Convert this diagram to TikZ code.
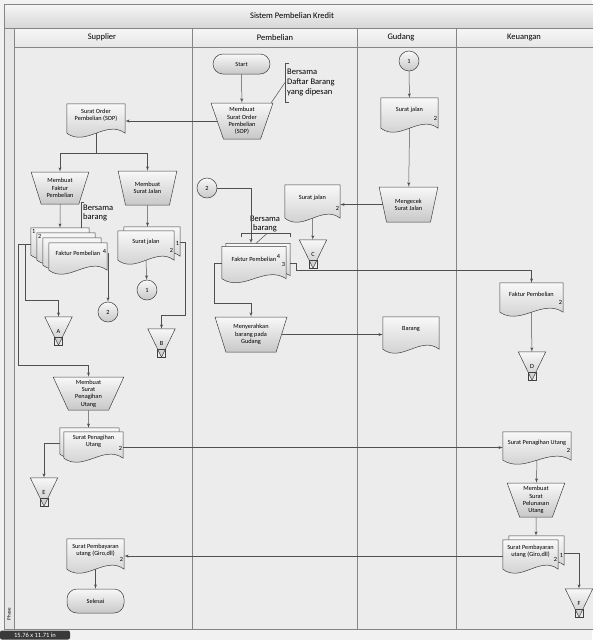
\documentclass[tikz,border=0pt]{standalone}
\usepackage{fontspec}
\setmainfont{Carlito}
\usetikzlibrary{arrows, backgrounds, calc, shapes.geometric}

\definecolor{pagebg}{HTML}{F1F1F1}
\definecolor{poolbg}{HTML}{ECECEC}
\definecolor{stripbg}{HTML}{E6E6E6}
\definecolor{laneline}{HTML}{858585}
\definecolor{headtop}{HTML}{F6F6F6}
\definecolor{headbot}{HTML}{D7D7D7}
\definecolor{shapeline}{HTML}{404040}
\definecolor{shadetop}{HTML}{F8F8F8}
\definecolor{shadebot}{HTML}{C8C8C8}
\definecolor{wire}{HTML}{505050}
\definecolor{tipbg}{HTML}{3A3A3A}

\newcommand\shapefont{\fontsize{6.3}{7.3}\selectfont}
\newcommand\notefont{\fontsize{8.5}{9.8}\selectfont}
\newcommand\headfont{\fontsize{8.5}{10}\selectfont}

% outline of a document: flat top, wavy bottom below the node
\newcommand\docoutline[1]{(#1.north west) -- (#1.north east) -- ([yshift=-7pt]#1.south east)
    .. controls ($(#1.south east)!0.33!(#1.south west)+(0,-7)$)
    and ($(#1.south east)!0.67!(#1.south west)+(0,21)$) .. ([yshift=-7pt]#1.south west) -- cycle}
% outline of an offline file: triangle pointing down
\newcommand\fileoutline[1]{(#1.north west) -- (#1.north east) -- (#1.south) -- cycle}

\tikzset{
    % node styles
    terminal/.style = {rectangle, rounded corners=10pt, minimum width=57pt, minimum height=22pt, inner sep=1pt,
        line width=0.5pt, draw=shapeline, top color=shadetop, bottom color=shadebot, font=\shapefont},
    manual/.style = {trapezium, trapezium angle=70, trapezium stretches=true, shape border rotate=180,
        inner sep=1pt, align=center, line width=0.5pt, draw=shapeline, top color=shadetop, bottom color=shadebot, font=\shapefont},
    connector/.style = {circle, minimum size=20pt, inner sep=0pt, line width=0.5pt, draw=shapeline,
        top color=shadetop, bottom color=shadebot, font=\shapefont},
    doc/.style = {rectangle, inner sep=1pt, align=center, font=\shapefont},
    file/.style = {rectangle, minimum width=27pt, minimum height=28pt, inner sep=0pt, font=\shapefont},
    note/.style = {inner sep=2pt, font=\notefont},
    num/.style = {inner sep=1pt, font=\shapefont},
    lane/.style = {font=\headfont},
    % outline style
    body/.style = {line width=0.5pt, draw=shapeline, top color=shadetop, bottom color=shadebot},
    % line styles
    line/.style = {line width=0.5pt, draw=wire},
    post/.style = {line, ->, >=latex'}
}

\begin{document}
\begin{tikzpicture}[x=1pt, y=-1pt]
    \useasboundingbox (0,0) rectangle (592,640);

    % pool, lanes and headers
    \begin{pgfonlayer}{background}
        \fill[pagebg] (0,0) rectangle (592,640);
        \fill[poolbg, draw=laneline] (4,4) rectangle (600,629);
        \shade[top color=headtop, bottom color=headbot, draw=laneline] (4,4) rectangle (600,28);
        \shade[top color=headtop, bottom color=headbot!50!headtop, draw=laneline] (14,28) rectangle (600,47);
        \fill[stripbg, draw=laneline] (4,28) rectangle (14,629);
        \foreach \x in {192,357,456}
            \draw[laneline] (\x,28) -- (\x,629);
    \end{pgfonlayer}

    \node[lane] (title) at (292,16) {Sistem Pembelian Kredit};
    \node[lane] (hSup) at (102,37.5) {Supplier};
    \node[lane] (hPem) at (275,37.5) {Pembelian};
    \node[lane] (hGud) at (401,37.5) {Gudang};
    \node[lane] (hKeu) at (524,37.5) {Keuangan};
    \node[rotate=90, font=\fontsize{5}{6}\selectfont] (phase) at (9,614) {Phase};

    % supplier
    \node[doc, minimum width=58pt, minimum height=22pt] (sop) at (96,115) {Surat Order\\Pembelian (SOP)};
    \node[manual, minimum width=58pt, minimum height=32pt] (fakM) at (60,188) {Membuat\\Faktur\\Pembelian};
    \node[manual, minimum width=59pt, minimum height=34pt] (sjM) at (147.5,188) {Membuat\\Surat Jalan};
    \node[note, anchor=west, align=left] (ann2) at (81,213) {Bersama\\barang};
    \node[doc, minimum width=58pt, minimum height=20pt,
        label={[num, anchor=north east, yshift=-5pt]north east:4}] (fakS) at (78,253) {Faktur Pembelian};
    \node[doc, minimum width=58pt, minimum height=20pt] (fakS3) at ([xshift=-6pt, yshift=5pt]fakS) {};
    \node[doc, minimum width=58pt, minimum height=20pt,
        label={[num, anchor=north west]north west:2}] (fakS2) at ([xshift=-12pt, yshift=10pt]fakS) {};
    \node[doc, minimum width=58pt, minimum height=20pt,
        label={[num, anchor=north west]north west:1}] (fakS1) at ([xshift=-18pt, yshift=15pt]fakS) {};
    \node[doc, minimum width=56pt, minimum height=22pt,
        label={[num, anchor=south east]south east:2}] (sjS) at (146,242) {Surat jalan};
    \node[doc, minimum width=56pt, minimum height=22pt,
        label={[num, anchor=east, yshift=-5pt]east:1}] (sjS1) at ([xshift=6pt, yshift=4pt]sjS) {};
    \node[connector] (c1S) at (147,290) {1};
    \node[connector] (c2S) at (108,312) {2};
    \node[file] (fileA) at (58.5,331) {A};
    \node[file] (fileB) at (161.5,343) {B};
    \node[manual, minimum width=71pt, minimum height=33pt] (spuM) at (88.5,393.5) {Membuat\\Surat\\Penagihan\\Utang};
    \node[doc, minimum width=59pt, minimum height=19pt,
        label={[num, anchor=south east]south east:2}] (spuS) at (93.5,441.5) {Surat Penagihan\\Utang};
    \node[doc, minimum width=59pt, minimum height=19pt] (spuS1) at ([xshift=-4pt, yshift=4pt]spuS) {};
    \node[file] (fileE) at (44,492) {E};
    \node[doc, minimum width=57pt, minimum height=23pt,
        label={[num, anchor=south east]south east:2}] (bayS) at (95.5,550.5) {Surat Pembayaran\\utang (Giro,dll)};
    \node[terminal, minimum height=24pt] (selesai) at (95.5,601) {Selesai};

    % pembelian
    \node[terminal, minimum height=20pt] (start) at (241.5,64) {Start};
    \node[manual, minimum width=62pt, minimum height=36pt] (sopM) at (242,121) {Membuat\\Surat Order\\Pembelian\\(SOP)};
    \node[note, anchor=west, align=left, minimum height=39pt] (ann1) at (285,82.5) {Bersama\\Daftar Barang\\yang dipesan};
    \node[connector] (c2P) at (207,188) {2};
    \node[note, align=center, inner sep=1pt] (ann3) at (265,224) {Bersama\\barang};
    \node[doc, minimum width=64pt, minimum height=25pt,
        label={[num, anchor=north east, xshift=-5pt, yshift=-7pt]north east:4},
        label={[num, anchor=east, yshift=-5pt]east:3}] (fakP) at (254,259) {Faktur Pembelian};
    \node[doc, minimum width=64pt, minimum height=25pt] (fakP1) at ([xshift=4pt, yshift=3pt]fakP) {};
    \node[doc, minimum width=55pt, minimum height=26pt,
        label={[num, anchor=south east]south east:2}] (sjP) at (312.5,198) {Surat jalan};
    \node[file] (fileC) at (313,254) {C};
    \node[manual, minimum width=72pt, minimum height=35pt] (kirim) at (251,334.5) {Menyerahkan\\barang pada\\Gudang};

    % gudang
    \node[connector] (c1G) at (409,61) {1};
    \node[doc, minimum width=57pt, minimum height=23pt,
        label={[num, anchor=south east]south east:2}] (sjG) at (409.5,109.5) {Surat jalan};
    \node[manual, minimum width=59pt, minimum height=35pt] (cek) at (408.5,204.5) {Mengecek\\Surat Jalan};
    \node[doc, minimum width=56pt, minimum height=25pt] (brg) at (411,329.5) {Barang};

    % keuangan
    \node[doc, minimum width=63pt, minimum height=22pt,
        label={[num, anchor=south east]south east:2}] (fakK) at (531.5,294) {Faktur Pembelian};
    \node[file] (fileD) at (532,366) {D};
    \node[doc, minimum width=68pt, minimum height=21pt,
        label={[num, anchor=south east]south east:2}] (spuK) at (537,442.5) {Surat Penagihan Utang};
    \node[manual, minimum width=58pt, minimum height=34pt] (lunas) at (536,500) {Membuat\\Surat\\Pelunasan\\Utang};
    \node[doc, minimum width=55pt, minimum height=22pt,
        label={[num, anchor=south east]south east:2}] (bayK) at (530.5,551) {Surat Pembayaran\\utang (Giro,dll)};
    \node[doc, minimum width=55pt, minimum height=22pt,
        label={[num, anchor=east, yshift=-8pt]east:1}] (bayK1) at ([xshift=6pt, yshift=4pt]bayK) {};
    \node[file] (fileF) at (579,603) {F};

    % outlines of documents and files
    \begin{pgfonlayer}{background}
        \foreach \d in {fakS1,fakS2,fakS3,fakS,sjS1,sjS,spuS1,spuS,bayK1,bayK,fakP1,fakP,sop,bayS,sjP,sjG,brg,fakK,spuK}
            \path[body] \docoutline{\d};
        \foreach \f in {fileA,fileB,fileC,fileD,fileE,fileF} {
            \path[body] \fileoutline{\f};
            \draw[line width=0.5pt, draw=shapeline] ([xshift=-4pt]\f.south) rectangle ([xshift=4pt, yshift=8pt]\f.south);
        }
    \end{pgfonlayer}

    % bend points
    \coordinate (lbus) at (18,365);
    \coordinate (jA) at (25,300);
    \coordinate (jB) at (185,315);
    \coordinate (jK) at (214,303);
    \coordinate (jF) at (296,270);
    \coordinate (fakL) at ([yshift=-6pt]fakS1.west);

    % flow
    \draw[post] (start) -- (sopM);
    \draw[post] (sopM.180) -- (sopM.180 -| sop.east);
    \draw[post] ([yshift=-7pt]sop.south) -- ++(0,20) -| (fakM);
    \draw[post] ([yshift=-7pt]sop.south) ++(0,20) -| (sjM);
    \draw[post] (fakM) -- (fakM |- fakS1.north);
    \draw[post] (sjM) -- (sjM |- sjS1.north);
    \draw[post] (fakL) -| (lbus) -| (spuM);
    \draw[post] (jA |- fakL) -- (jA) -| (fileA);
    \draw[post] (c2S |- fakS.east) -- (c2S);
    \draw[post] ([yshift=-7pt]sjS.south) -- (c1S);
    \draw[post] ([yshift=-4pt]sjS1.east) -| (jB) -| (fileB);
    \draw[post] (spuM) -- (spuM |- spuS1.north);
    \draw[post] ([yshift=-6pt]spuS1.west) -| (fileE);
    \draw[post] ([yshift=-6pt]spuS.east) -- ([yshift=-6pt]spuS.east -| spuK.west);
    \draw[post] ([yshift=-7pt]spuK.south) -- (lunas);
    \draw[post] (lunas) -- (lunas |- bayK1.north);
    \draw[post] ([yshift=-5pt]bayK.west) -- ([yshift=-5pt]bayK.west -| bayS.east);
    \draw[post] ([yshift=-6pt]bayK1.east) -| (fileF);
    \draw[post] ([yshift=-7pt]bayS.south) -- (selesai);
    \draw[post] (c2P) -| ([xshift=-7pt]fakP1.north);
    \draw[post] ([yshift=-4pt]fakP.west) -| (jK) -| (kirim);
    \draw[post] ([yshift=-7pt]fakP1.east) -| (jF) -| (fakK);
    \draw[post] ([yshift=-7pt]fakK.south) -- (fileD);
    \draw[post] (kirim.0) -- (kirim.0 -| brg.west);
    \draw[post] (c1G) -- (sjG);
    \draw[post] ([yshift=-7pt]sjG.south) -- (cek);
    \draw[post] (cek.180) -- (cek.180 -| sjP.east);
    \draw[post] ([yshift=-7pt]sjP.south) -- (fileC);

    % annotations
    \draw[line] ([xshift=4pt]ann1.north west) -- (ann1.north west) -- (ann1.south west) -- ([xshift=4pt]ann1.south west);
    \draw[line] (ann1.west) -- (sopM.32);
    \draw[line] ([xshift=3pt]ann2.north west) -- (ann2.north west) -- (ann2.north west |- fakS1.north);
    \draw[line] ([xshift=-24pt, yshift=-3pt]ann3.south) -- ([xshift=-24pt]ann3.south) -- ([xshift=25pt]ann3.south) -- ([xshift=25pt, yshift=-3pt]ann3.south);
    \draw[line] ([xshift=2pt]ann3.south) -- ([xshift=-2pt]fakP1.north);

    % size tip of the screen
    \node[fill=tipbg, text=white, rounded corners=2pt, minimum width=70pt, minimum height=9pt, inner sep=1pt,
        font=\fontsize{6.5}{7}\selectfont] (tip) at (35,635) {15.76 x 11.71 in};
\end{tikzpicture}
\end{document}
